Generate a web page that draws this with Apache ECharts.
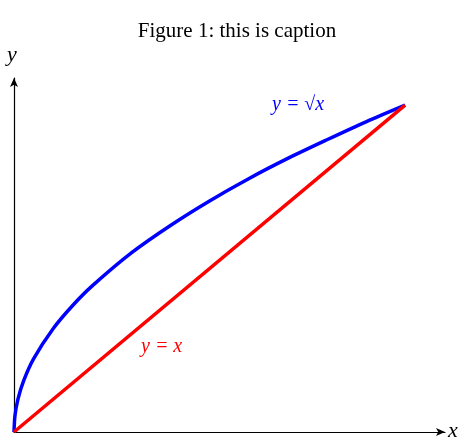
<!DOCTYPE html>
<html><head><meta charset="utf-8">
<script src="https://cdn.jsdelivr.net/npm/echarts@6/dist/echarts.min.js"></script>
<style>html,body{margin:0;padding:0;background:#fff}#c{width:474px;height:444px}</style>
</head><body><div id="c"></div>
<script>
const sqrtX = [0,0.0025,0.01,0.025,0.05,0.1,0.15,0.2,0.3,0.4,0.5,0.6,0.7,0.8,0.9,1];
const sqrtY = [0,0.05,0.1,0.158,0.224,0.316,0.387,0.447,0.548,0.632,0.707,0.775,0.837,0.894,0.949,1];
const lineX = [0,1];
const lineY = [0,1];
const chart = echarts.init(document.getElementById('c'));
const serif = 'Liberation Serif, DejaVu Serif, serif';
chart.setOption({
  animation:false,
  title:{text:'Figure 1: this is caption',left:'center',top:16,textStyle:{fontFamily:serif,fontWeight:'normal',fontSize:21,color:'#000'}},
  grid:{left:14,top:78,width:431,height:354},
  xAxis:{type:'value',min:0,max:1.102,splitLine:{show:false},axisTick:{show:false},axisLabel:{show:false},
    axisLine:{lineStyle:{color:'#000',width:1.2},symbol:['none','arrow'],symbolSize:[6,9]}},
  yAxis:{type:'value',min:0,max:1.083,splitLine:{show:false},axisTick:{show:false},axisLabel:{show:false},
    axisLine:{lineStyle:{color:'#000',width:1.2},symbol:['none','arrow'],symbolSize:[6,9]}},
  series:[
    {type:'line',data:sqrtX.map((x,i)=>[x,sqrtY[i]]),smooth:0.3,showSymbol:false,lineStyle:{color:'#0000ff',width:3.5}},
    {type:'line',data:lineX.map((x,i)=>[x,lineY[i]]),showSymbol:false,lineStyle:{color:'#ff0000',width:3.5}}
  ],
  graphic:[
    {type:'text',left:448,top:420,style:{text:'x',font:'italic 22px '+serif,fill:'#000'}},
    {type:'text',left:7,top:44,style:{text:'y',font:'italic 22px '+serif,fill:'#000'}},
    {type:'text',left:272,top:95,style:{text:'y = √x',font:'italic 20px '+serif,fill:'#0000ff'}},
    {type:'text',left:141,top:337,style:{text:'y = x',font:'italic 20px '+serif,fill:'#ff0000'}}
  ]
});
</script></body></html>
